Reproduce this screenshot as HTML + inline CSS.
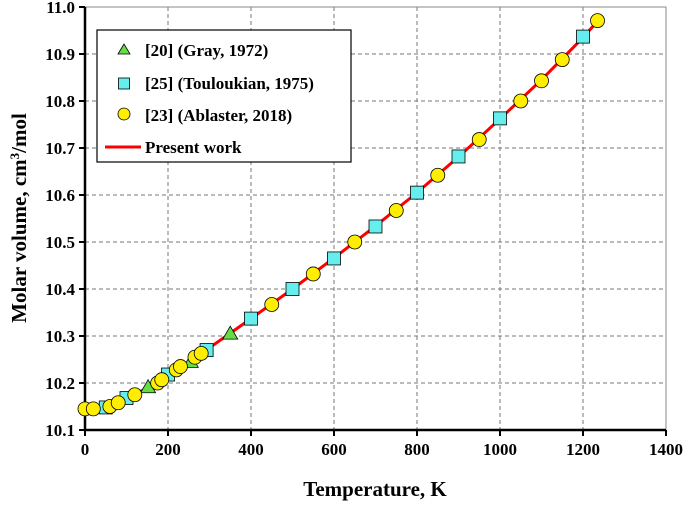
<!DOCTYPE html>
<html><head><meta charset="utf-8"><style>
body{margin:0;background:#fff}
svg text{font-family:"Liberation Serif",serif;font-weight:bold}
</style></head><body>
<svg width="685" height="502" viewBox="0 0 685 502">
<g id="grid"></g>
<g id="axes"></g>
<g id="marks"></g>
<g>
<rect x="97" y="30" width="254" height="132" fill="#fff" stroke="#000" stroke-width="1.2"/>
<polygon points="124,44 118,54 130,54" fill="#66dd44" stroke="#000" stroke-width="0.8"/>
<text x="145" y="56" font-size="17">[20] (Gray, 1972)</text>
<rect x="118.5" y="78" width="11" height="11" fill="#66eeee" stroke="#000" stroke-width="0.8"/>
<text x="145" y="89" font-size="17">[25] (Touloukian, 1975)</text>
<circle cx="124" cy="114" r="6" fill="#ffee00" stroke="#000" stroke-width="0.8"/>
<text x="145" y="121" font-size="17">[23] (Ablaster, 2018)</text>
<line x1="105" y1="147" x2="141" y2="147" stroke="#ff0000" stroke-width="3"/>
<text x="145" y="153" font-size="17">Present work</text>
</g>
<text x="375" y="496" font-size="21" text-anchor="middle">Temperature, K</text>
<text transform="translate(26 218) rotate(-90)" font-size="21" text-anchor="middle">Molar volume, cm<tspan font-size="13" dy="-7">3</tspan><tspan dy="7">/mol</tspan></text>
</svg>
<script>
const xTicks=[0,200,400,600,800,1000,1200,1400];
const yTicks=[10.1,10.2,10.3,10.4,10.5,10.6,10.7,10.8,10.9,11.0];
const grayT=[152,255,350];
const grayV=[10.191,10.245,10.305];
const toulT=[50,100,200,293,400,500,600,700,800,900,1000,1200];
const toulV=[10.148,10.168,10.218,10.27,10.337,10.40,10.465,10.533,10.605,10.682,10.763,10.937];
const ablT=[0,20,60,80,120,175,185,220,230,265,280,450,550,650,750,850,950,1050,1100,1150,1235];
const ablV=[10.145,10.145,10.15,10.158,10.175,10.2,10.207,10.228,10.235,10.255,10.263,10.367,10.432,10.5,10.567,10.642,10.718,10.8,10.843,10.888,10.971];
const lineT=[0,50,100,150,200,250,300,400,500,600,700,800,900,1000,1100,1200,1235];
const lineV=[10.144,10.148,10.165,10.19,10.217,10.245,10.275,10.337,10.40,10.466,10.534,10.605,10.681,10.762,10.845,10.935,10.97];
const X0=85,X1=666,Y0=430,Y1=7;
const sx=t=>X0+(t-0)/(1400-0)*(X1-X0);
const sy=v=>Y0-(v-10.1)/(11.0-10.1)*(Y0-Y1);
const NS="http://www.w3.org/2000/svg";
function mk(tag,at,parent){const e=document.createElementNS(NS,tag);for(const k in at)e.setAttribute(k,at[k]);parent.appendChild(e);return e;}
const grid=document.getElementById('grid'),axes=document.getElementById('axes'),marks=document.getElementById('marks');
xTicks.forEach(t=>{if(t>0&&t<1400){const l=mk('line',{x1:sx(t),x2:sx(t),y1:Y1,y2:Y0,stroke:'#777','stroke-dasharray':'4,3','stroke-width':1},grid);

}
const tk=mk('line',{x1:sx(t),x2:sx(t),y1:Y0,y2:Y0+6,stroke:'#000','stroke-width':2},axes);


const tx=mk('text',{x:sx(t),y:Y0+25,'font-size':17,'text-anchor':'middle'},axes);tx.textContent=t;

});
yTicks.forEach(v=>{if(v>10.1&&v<11){const l=mk('line',{x1:X0,x2:X1,y1:sy(v),y2:sy(v),stroke:'#777','stroke-dasharray':'4,3','stroke-width':1},grid);

}
const tk=mk('line',{x1:X0-6,x2:X0,y1:sy(v),y2:sy(v),stroke:'#000','stroke-width':2},axes);


const tx=mk('text',{x:X0-10,y:sy(v)+6,'font-size':17,'text-anchor':'end'},axes);tx.textContent=v.toFixed(1);

});
const fr=mk('path',{d:`M${X0},${Y1}H${X1}V${Y0}`,fill:'none',stroke:'#888','stroke-width':1},axes);


const ax=mk('path',{d:`M${X0},${Y1}V${Y0}H${X1}`,fill:'none',stroke:'#000','stroke-width':2.5},axes);


const pl=mk('polyline',{points:lineT.map((t,i)=>sx(t)+','+sy(lineV[i])).join(' '),fill:'none',stroke:'#ff0000','stroke-width':3},marks);


grayT.forEach((t,i)=>{const x=sx(t),y=sy(grayV[i]);const p=mk('polygon',{points:`${x},${y-7.5} ${x-7.5},${y+5.5} ${x+7.5},${y+5.5}`,fill:'#66dd44',stroke:'#000','stroke-width':0.8},marks);

});
toulT.forEach((t,i)=>{const x=sx(t),y=sy(toulV[i]);const p=mk('rect',{x:x-6.5,y:y-6.5,width:13,height:13,fill:'#66eeee',stroke:'#000','stroke-width':0.8},marks);

});
ablT.forEach((t,i)=>{const p=mk('circle',{cx:sx(t),cy:sy(ablV[i]),r:7,fill:'#ffee00',stroke:'#000','stroke-width':0.8},marks);

});
</script>
</body></html>
